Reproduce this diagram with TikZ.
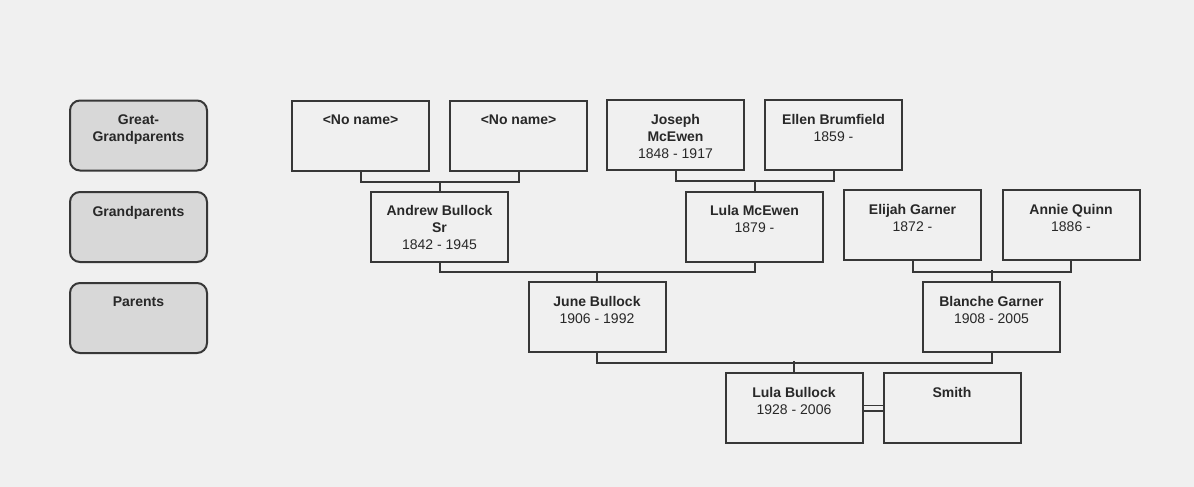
\documentclass[tikz,border=0pt]{standalone}
\usepackage{fontspec}
\setmainfont{Liberation Sans}
\definecolor{paper}{RGB}{240,240,240}
\definecolor{inkc}{RGB}{55,55,55}
\definecolor{textc}{RGB}{40,40,40}
\definecolor{labfill}{RGB}{216,216,216}
\begin{document}
\begin{tikzpicture}[x=1pt,y=-1pt,
  ink/.style={draw=inkc},
  pbox/.style={ink, line width=2pt, minimum width=137pt, minimum height=70pt, inner sep=0pt},
  gbox/.style={pbox, rounded corners=10pt, fill=labfill},
  ptext/.style={anchor=north, inner sep=0pt, align=center, text=textc,
    font=\fontsize{14pt}{17pt}\selectfont},
  link/.style={ink, line width=2pt}
]
\fill[paper] (0,0) rectangle (1194,487);
\useasboundingbox (0,0) rectangle (1194,487);

% generation labels
\node[gbox] (g1) at (138.5,135.5) {};
\node[gbox] (g2) at (138.5,227) {};
\node[gbox] (g3) at (138.5,318) {};
\node[ptext] (g1t) at ([yshift=-15pt]g1.north) {\textbf{Great-}\\\textbf{Grandparents}};
\node[ptext] (g2t) at ([yshift=-15pt]g2.north) {\textbf{Grandparents}};
\node[ptext] (g3t) at ([yshift=-15pt]g3.north) {\textbf{Parents}};

% people
\node[pbox] (a) at (360.5,135.5) {};
\node[pbox] (b) at (518.5,135.5) {};
\node[pbox] (c) at (675.5,135) {};
\node[pbox] (d) at (833.5,135) {};
\node[pbox] (andrew) at (439.5,226.5) {};
\node[pbox] (lulamc) at (754.5,226.5) {};
\node[pbox] (elijah) at (912.5,225) {};
\node[pbox] (annie) at (1071,225) {};
\node[pbox] (june) at (597,317) {};
\node[pbox] (blanche) at (991.5,317) {};
\node[pbox] (lulab) at (794,408) {};
\node[pbox] (smith) at (952,408) {};

\node[ptext] (at) at ([yshift=-15pt]a.north) {\textbf{<No name>}};
\node[ptext] (bt) at ([yshift=-15pt]b.north) {\textbf{<No name>}};
\node[ptext] (ct) at ([yshift=-15pt]c.north) {\textbf{Joseph}\\\textbf{McEwen}\\1848 - 1917};
\node[ptext] (dt) at ([yshift=-15pt]d.north) {\textbf{Ellen Brumfield}\\1859 -};
\node[ptext] (andrewt) at ([yshift=-15pt]andrew.north) {\textbf{Andrew Bullock}\\\textbf{Sr}\\1842 - 1945};
\node[ptext] (lulamct) at ([yshift=-15pt]lulamc.north) {\textbf{Lula McEwen}\\1879 -};
\node[ptext] (elijaht) at ([yshift=-15pt]elijah.north) {\textbf{Elijah Garner}\\1872 -};
\node[ptext] (anniet) at ([yshift=-15pt]annie.north) {\textbf{Annie Quinn}\\1886 -};
\node[ptext] (junet) at ([yshift=-15pt]june.north) {\textbf{June Bullock}\\1906 - 1992};
\node[ptext] (blanchet) at ([yshift=-15pt]blanche.north) {\textbf{Blanche Garner}\\1908 - 2005};
\node[ptext] (lulabt) at ([yshift=-15pt]lulab.north) {\textbf{Lula Bullock}\\1928 - 2006};
\node[ptext] (smitht) at ([yshift=-15pt]smith.north) {\textbf{Smith}};

% connectors
\draw[link] (a.south) -- ++(0,10) -| (b.south);
\draw[link] (andrew.north) -- ++(0,-10);
\draw[link] (c.south) -- ++(0,10) -| (d.south);
\draw[link] (lulamc.north) -- ++(0,-10);
\draw[link] (andrew.south) -- ++(0,9) -| (lulamc.south);
\draw[link] (june.north) -- ++(0,-10.5);
\draw[link] (elijah.south) -- ++(0,11) -| (annie.south);
\draw[link] (blanche.north) -- ++(0,-11);
\draw[link] (june.south) -- ++(0,10) -| (blanche.south);
\draw[link] (lulab.north) -- ++(0,-11);
\draw[ink, line width=1.7pt, double=paper, double distance=3.6pt] (lulab.east) -- (smith.west);
\end{tikzpicture}
\end{document}
